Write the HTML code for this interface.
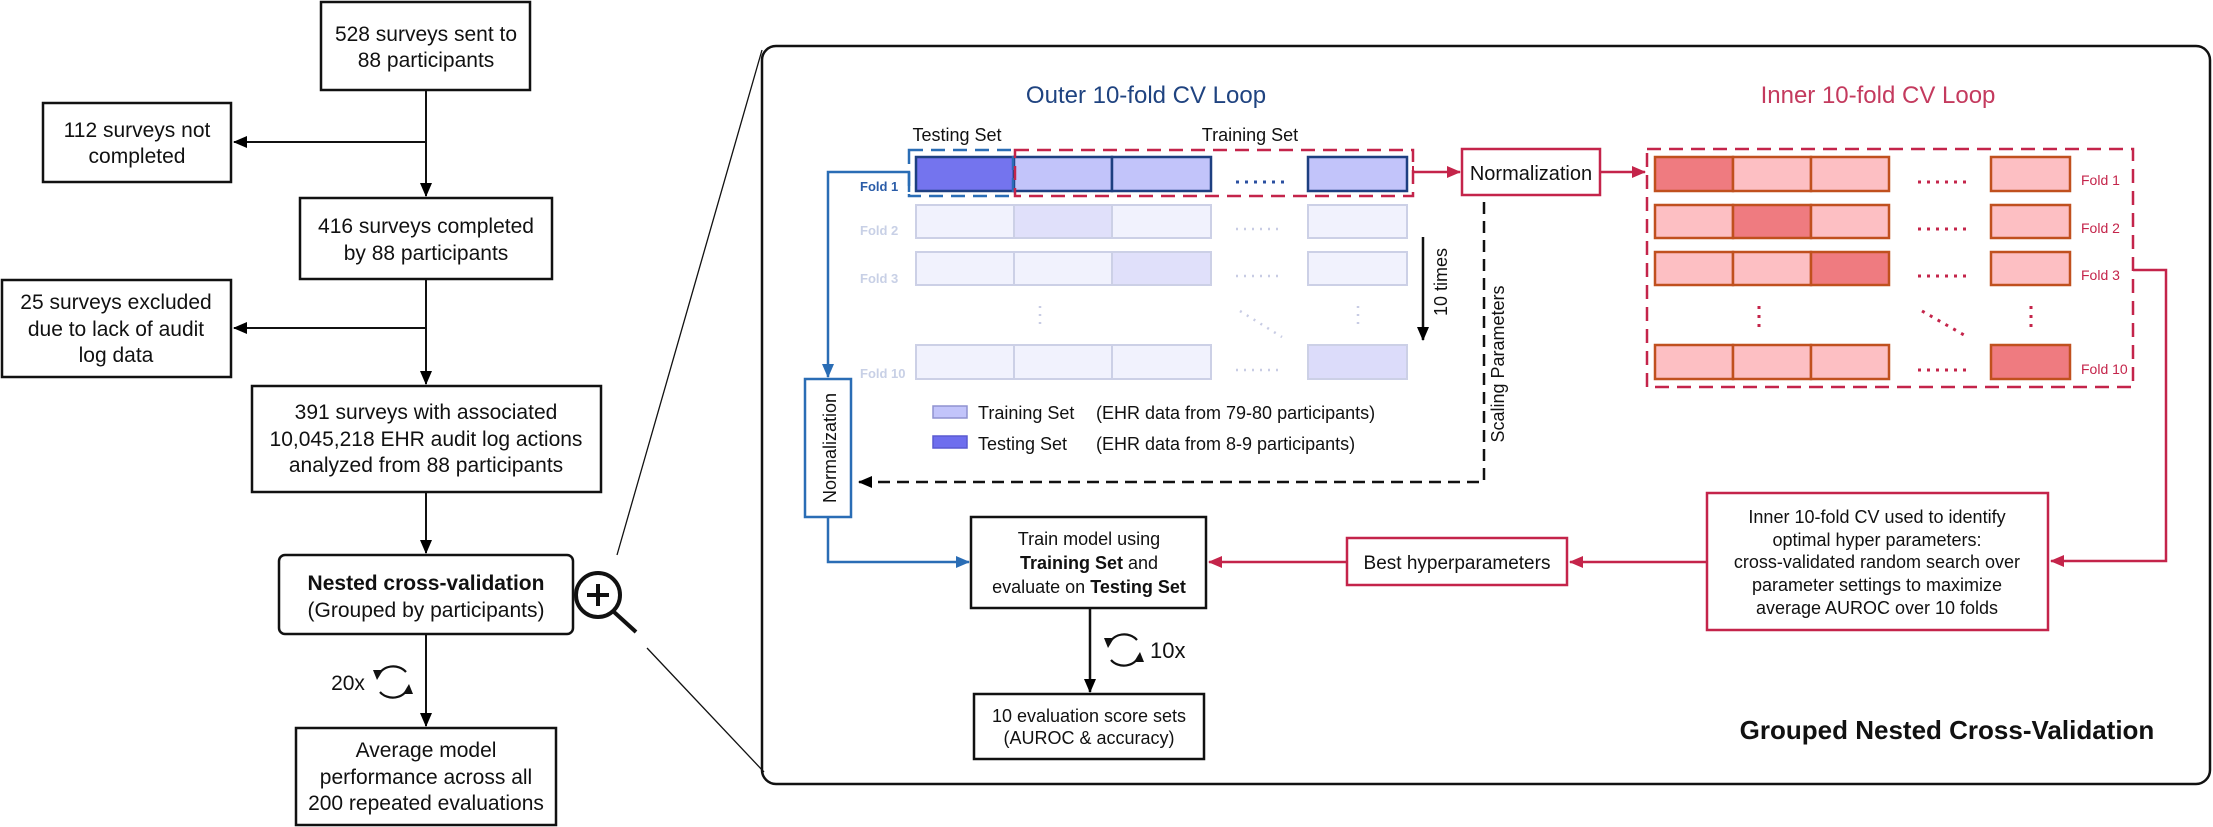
<!DOCTYPE html>
<html><head><meta charset="utf-8"><style>
html,body{margin:0;padding:0;background:#fff}
svg{display:block}
text{font-family:"Liberation Sans",sans-serif}
</style></head><body>
<svg width="2213" height="827" viewBox="0 0 2213 827" xmlns="http://www.w3.org/2000/svg">
<defs>
<marker id="ak" markerWidth="10" markerHeight="10" refX="9" refY="5" orient="auto" markerUnits="userSpaceOnUse"><path d="M0,0 L10,5 L0,10 z" fill="#000"/></marker>
<marker id="ab" markerWidth="14" markerHeight="12" refX="13" refY="6" orient="auto" markerUnits="userSpaceOnUse"><path d="M0,0 L14,6 L0,12 z" fill="#2a6db5"/></marker>
<marker id="ar" markerWidth="14" markerHeight="12" refX="13" refY="6" orient="auto" markerUnits="userSpaceOnUse"><path d="M0,0 L14,6 L0,12 z" fill="#c4244a"/></marker>
<marker id="akb" markerWidth="14" markerHeight="12" refX="13" refY="6" orient="auto" markerUnits="userSpaceOnUse"><path d="M0,0 L14,6 L0,12 z" fill="#000"/></marker>
</defs>
<g fill="none" stroke="#111" stroke-width="2.5">
<rect x="321" y="2" width="209" height="88"/>
<rect x="43" y="103" width="188" height="79"/>
<rect x="300" y="198" width="252" height="81"/>
<rect x="2" y="280" width="229" height="97"/>
<rect x="252" y="386" width="349" height="106"/>
<rect x="279" y="555" width="294" height="79" rx="6"/>
<rect x="296" y="728" width="260" height="97"/>
</g>
<g stroke="#111" stroke-width="2" fill="none">
<line x1="426" y1="90" x2="426" y2="196" marker-end="url(#akb)"/>
<line x1="426" y1="142" x2="234" y2="142" marker-end="url(#akb)"/>
<line x1="426" y1="279" x2="426" y2="384" marker-end="url(#akb)"/>
<line x1="426" y1="328" x2="234" y2="328" marker-end="url(#akb)"/>
<line x1="426" y1="492" x2="426" y2="553" marker-end="url(#akb)"/>
<line x1="426" y1="634" x2="426" y2="726" marker-end="url(#akb)"/>
</g>
<g font-size="21" fill="#111" text-anchor="middle">
<text x="426" y="41">528 surveys sent to</text><text x="426" y="67">88 participants</text>
<text x="137" y="137">112 surveys not</text><text x="137" y="163">completed</text>
<text x="426" y="233">416 surveys completed</text><text x="426" y="260">by 88 participants</text>
<text x="116" y="309">25 surveys excluded</text><text x="116" y="336">due to lack of audit</text><text x="116" y="362">log data</text>
<text x="426" y="419">391 surveys with associated</text><text x="426" y="446">10,045,218 EHR audit log actions</text><text x="426" y="472">analyzed from 88 participants</text>
<text x="426" y="590" font-weight="bold">Nested cross-validation</text><text x="426" y="617">(Grouped by participants)</text>
<text x="426" y="757">Average model</text><text x="426" y="784">performance across all</text><text x="426" y="810">200 repeated evaluations</text>
<text x="348" y="690">20x</text>
</g>
<!-- refresh icon 20x -->
<g stroke="#111" stroke-width="2.2" fill="none">
<path d="M378,676 A16,14 0 0 1 406,672"/>
<path d="M408,688 A16,14 0 0 1 380,692"/>
</g>
<path d="M373,670 L383,670 L377,680 z M413,694 L403,694 L409,684 z" fill="#111"/>
<!-- magnifier -->
<circle cx="598" cy="595" r="22" fill="none" stroke="#111" stroke-width="4"/>
<line x1="587" y1="595" x2="609" y2="595" stroke="#111" stroke-width="4"/>
<line x1="598" y1="584" x2="598" y2="606" stroke="#111" stroke-width="4"/>
<line x1="614" y1="612" x2="636" y2="632" stroke="#111" stroke-width="4"/>
<line x1="617" y1="555" x2="762" y2="50" stroke="#111" stroke-width="1.3"/>
<line x1="647" y1="648" x2="764" y2="772" stroke="#111" stroke-width="1.3"/>
<!-- big box -->
<rect x="762" y="46" width="1448" height="738" rx="14" fill="none" stroke="#111" stroke-width="2.5"/>
<text x="1146" y="103" font-size="24" fill="#1f4380" text-anchor="middle">Outer 10-fold CV Loop</text>
<text x="1878" y="103" font-size="24" fill="#c43a5e" text-anchor="middle">Inner 10-fold CV Loop</text>
<text x="957" y="141" font-size="18" fill="#111" text-anchor="middle">Testing Set</text>
<text x="1250" y="141" font-size="18" fill="#111" text-anchor="middle">Training Set</text>
<!-- outer rows -->
<g stroke="#1d3f80" stroke-width="2.5">
<rect x="916" y="157" width="98" height="34" fill="#7474ee"/>
<rect x="1014" y="157" width="98" height="34" fill="#c2c4fa"/>
<rect x="1112" y="157" width="99" height="34" fill="#c2c4fa"/>
<rect x="1308" y="157" width="99" height="34" fill="#c2c4fa"/>
</g>
<g stroke="#ccd0e6" stroke-width="2" fill="#f1f2fd">
<rect x="916" y="205" width="98" height="33"/><rect x="1014" y="205" width="98" height="33" fill="#e0e0fa"/><rect x="1112" y="205" width="99" height="33"/><rect x="1308" y="205" width="99" height="33"/>
<rect x="916" y="252" width="98" height="33"/><rect x="1014" y="252" width="98" height="33"/><rect x="1112" y="252" width="99" height="33" fill="#e0e0fa"/><rect x="1308" y="252" width="99" height="33"/>
<rect x="916" y="345" width="98" height="34"/><rect x="1014" y="345" width="98" height="34"/><rect x="1112" y="345" width="99" height="34"/><rect x="1308" y="345" width="99" height="34" fill="#dcdcfa"/>
</g>
<line x1="1236" y1="182" x2="1284" y2="182" stroke="#2a4fa0" stroke-width="3" stroke-dasharray="3,6"/>
<g stroke="#c8cce4" stroke-width="2.5" stroke-dasharray="2,6">
<line x1="1236" y1="229" x2="1284" y2="229"/><line x1="1236" y1="276" x2="1284" y2="276"/><line x1="1236" y1="370" x2="1284" y2="370"/>
<line x1="1040" y1="306" x2="1040" y2="328"/><line x1="1358" y1="306" x2="1358" y2="328"/><line x1="1240" y1="311" x2="1282" y2="337"/>
</g>
<g font-size="13" fill="#c8d0e6" font-weight="bold">
<text x="860" y="235">Fold 2</text><text x="860" y="283">Fold 3</text><text x="860" y="378">Fold 10</text>
</g>
<text x="860" y="191" font-size="13" fill="#2a5ca8" font-weight="bold">Fold 1</text>
<rect x="909" y="150" width="104" height="46" fill="none" stroke="#2a6db5" stroke-width="2.5" stroke-dasharray="14,8"/>
<rect x="1015" y="150" width="398" height="46" fill="none" stroke="#c4244a" stroke-width="2.5" stroke-dasharray="14,8"/>
<!-- blue connectors -->
<polyline points="909,192 909,172 828,172 828,377" fill="none" stroke="#2a6db5" stroke-width="2.5" marker-end="url(#ab)"/>
<rect x="805" y="379" width="46" height="138" fill="#fff" stroke="#2a6db5" stroke-width="2.5"/>
<text transform="translate(836,448) rotate(-90)" font-size="18" fill="#111" text-anchor="middle">Normalization</text>
<polyline points="828,517 828,562 969,562" fill="none" stroke="#2a6db5" stroke-width="2.5" marker-end="url(#ab)"/>
<!-- 10 times -->
<line x1="1423" y1="237" x2="1423" y2="340" stroke="#111" stroke-width="2.5" marker-end="url(#akb)"/>
<text transform="translate(1447,282) rotate(-90)" font-size="18" fill="#111" text-anchor="middle">10 times</text>
<!-- legend -->
<rect x="933" y="406" width="34" height="12" fill="#c2c4fa" stroke="#8f92d0" stroke-width="1.5"/>
<rect x="933" y="436" width="34" height="12" fill="#6e6eee" stroke="#5a5ad0" stroke-width="1.5"/>
<g font-size="18" fill="#111"><text x="978" y="419">Training Set</text><text x="1096" y="419">(EHR data from 79-80 participants)</text>
<text x="978" y="450">Testing Set</text><text x="1096" y="450">(EHR data from 8-9 participants)</text></g>
<!-- normalization right -->
<line x1="1413" y1="166" x2="1413" y2="178" stroke="#c4244a" stroke-width="2"/>
<line x1="1413" y1="172" x2="1460" y2="172" stroke="#c4244a" stroke-width="2.5" marker-end="url(#ar)"/>
<rect x="1462" y="149" width="138" height="46" fill="#fff" stroke="#c4244a" stroke-width="2.5"/>
<text x="1531" y="180" font-size="20" fill="#111" text-anchor="middle">Normalization</text>
<line x1="1600" y1="172" x2="1645" y2="172" stroke="#c4244a" stroke-width="2.5" marker-end="url(#ar)"/>
<polyline points="1484,202 1484,482 859,482" fill="none" stroke="#111" stroke-width="2.5" stroke-dasharray="12,7" marker-end="url(#akb)"/>
<text transform="translate(1504,364) rotate(-90)" font-size="18" fill="#111" text-anchor="middle">Scaling Parameters</text>
<!-- train box -->
<rect x="971" y="517" width="235" height="91" fill="#fff" stroke="#111" stroke-width="2.5"/>
<g font-size="18" fill="#111" text-anchor="middle">
<text x="1089" y="545">Train model using</text>
<text x="1089" y="569"><tspan font-weight="bold">Training Set</tspan> and</text>
<text x="1089" y="593">evaluate on <tspan font-weight="bold">Testing Set</tspan></text>
</g>
<line x1="1090" y1="608" x2="1090" y2="692" stroke="#111" stroke-width="2.5" marker-end="url(#akb)"/>
<g stroke="#111" stroke-width="2.2" fill="none">
<path d="M1109,644 A16,14 0 0 1 1137,640"/><path d="M1139,656 A16,14 0 0 1 1111,660"/>
</g>
<path d="M1104,638 L1114,638 L1108,648 z M1144,662 L1134,662 L1140,652 z" fill="#111"/>
<text x="1150" y="658" font-size="22" fill="#111">10x</text>
<rect x="974" y="694" width="230" height="65" fill="#fff" stroke="#111" stroke-width="2.5"/>
<g font-size="18" fill="#111" text-anchor="middle"><text x="1089" y="722">10 evaluation score sets</text><text x="1089" y="744">(AUROC &amp; accuracy)</text></g>
<!-- best hyper -->
<line x1="1347" y1="562" x2="1209" y2="562" stroke="#c4244a" stroke-width="2.5" marker-end="url(#ar)"/>
<rect x="1347" y="538" width="220" height="47" fill="#fff" stroke="#c4244a" stroke-width="2.5"/>
<text x="1457" y="569" font-size="19" fill="#111" text-anchor="middle">Best hyperparameters</text>
<line x1="1707" y1="562" x2="1570" y2="562" stroke="#c4244a" stroke-width="2.5" marker-end="url(#ar)"/>
<rect x="1707" y="493" width="341" height="137" fill="#fff" stroke="#c4244a" stroke-width="2.5"/>
<g font-size="18" fill="#111" text-anchor="middle">
<text x="1877" y="523">Inner 10-fold CV used to identify</text>
<text x="1877" y="546">optimal hyper parameters:</text>
<text x="1877" y="568">cross-validated random search over</text>
<text x="1877" y="591">parameter settings to maximize</text>
<text x="1877" y="614">average AUROC over 10 folds</text>
</g>
<!-- inner rows -->
<g stroke="#c0501e" stroke-width="2.5" fill="#fdbfc3">
<rect x="1655" y="157" width="78" height="34" fill="#ef7b80"/><rect x="1733" y="157" width="78" height="34"/><rect x="1811" y="157" width="78" height="34"/><rect x="1991" y="157" width="79" height="34"/>
<rect x="1655" y="205" width="78" height="33"/><rect x="1733" y="205" width="78" height="33" fill="#ef7b80"/><rect x="1811" y="205" width="78" height="33"/><rect x="1991" y="205" width="79" height="33"/>
<rect x="1655" y="252" width="78" height="33"/><rect x="1733" y="252" width="78" height="33"/><rect x="1811" y="252" width="78" height="33" fill="#ef7b80"/><rect x="1991" y="252" width="79" height="33"/>
<rect x="1655" y="345" width="78" height="34"/><rect x="1733" y="345" width="78" height="34"/><rect x="1811" y="345" width="78" height="34"/><rect x="1991" y="345" width="79" height="34" fill="#ef7b80"/>
</g>
<g stroke="#c4244a" stroke-width="3" stroke-dasharray="3,6">
<line x1="1918" y1="182" x2="1968" y2="182"/><line x1="1918" y1="229" x2="1968" y2="229"/><line x1="1918" y1="276" x2="1968" y2="276"/><line x1="1918" y1="370" x2="1968" y2="370"/>
<line x1="1759" y1="306" x2="1759" y2="328"/><line x1="2031" y1="306" x2="2031" y2="328"/><line x1="1922" y1="311" x2="1964" y2="335"/>
</g>
<g font-size="14" fill="#c4244a"><text x="2081" y="185">Fold 1</text><text x="2081" y="233">Fold 2</text><text x="2081" y="280">Fold 3</text><text x="2081" y="374">Fold 10</text></g>
<rect x="1647" y="149" width="486" height="238" fill="none" stroke="#c4244a" stroke-width="2.5" stroke-dasharray="14,8"/>
<polyline points="2133,270 2166,270 2166,561 2051,561" fill="none" stroke="#c4244a" stroke-width="2.5" marker-end="url(#ar)"/>
<text x="1947" y="739" font-size="26" font-weight="bold" fill="#111" text-anchor="middle">Grouped Nested Cross-Validation</text>
</svg>
</body></html>
